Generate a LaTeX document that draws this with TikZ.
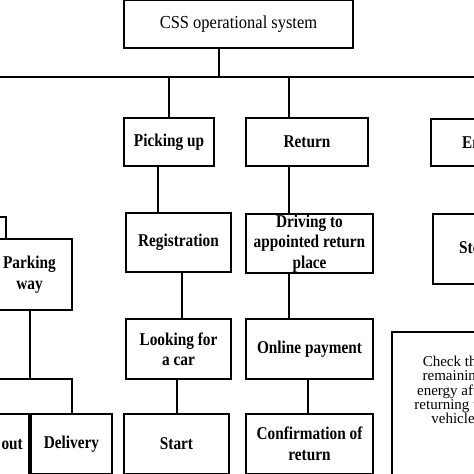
\documentclass[tikz,border=0pt]{standalone}
\usepackage{fontspec}
\setmainfont{Liberation Serif}
\newfontfamily\bxfont[FakeStretch=0.85]{Liberation Serif}
\newfontfamily\cssfont[FakeStretch=0.9]{Liberation Serif}
\begin{document}
\begin{tikzpicture}[x=1pt,y=-1pt,
  box/.style={draw, line width=1.4pt, inner sep=0pt, align=center,
    font=\bxfont\fontsize{18}{20.5}\selectfont\bfseries},
  lbl/.style={inner sep=0pt, font=\bxfont\fontsize{18}{20.5}\selectfont\bfseries},
  conn/.style={line width=1.4pt}]
\useasboundingbox (0,0) rectangle (474,474);
\clip (0,0) rectangle (474,474);
% boxes
\node[box, minimum width=229pt, minimum height=48pt,
  font=\cssfont\fontsize{18.3}{20}\selectfont] (css) at (238.5,24) {CSS operational system};
\node[box, minimum width=90pt, minimum height=48pt] (pick) at (169,142) {Picking up};
\node[box, minimum width=122pt, minimum height=48pt] (ret) at (307,142) {Return};
\node[box, minimum width=122pt, minimum height=47pt] (endb) at (492,142.5) {};
\node[lbl, anchor=base west] (endt) at (462,148) {End};
\node[box, minimum width=105pt, minimum height=59pt] (reg) at (178.5,242.5) {Registration};
\node[box, minimum width=127pt, minimum height=59pt] (drive) at (309.5,243.5) {Driving to\\appointed return\\place};
\node[box, minimum width=122pt, minimum height=70pt] (stopb) at (494,249) {};
\node[lbl, anchor=base west] (stopt) at (459,253) {Stop};
\node[box, minimum width=85pt, minimum height=71pt] (park) at (29.5,274.5) {Parking\\way};
\node[box, minimum width=105pt, minimum height=60pt] (look) at (178.5,349) {Looking for\\a car};
\node[box, minimum width=127pt, minimum height=60pt] (pay) at (309.5,349) {Online payment};
\node[box, minimum width=122pt, minimum height=168pt] (chkb) at (453,416) {};
\node[inner sep=0pt, align=center, font=\fontsize{15}{14.2}\selectfont] (chkt) at (453,390)
  {Check the\\remaining\\energy after\\returning the\\vehicle};
\node[box, minimum width=49pt, minimum height=66pt] (outb) at (4.5,447) {};
\node[lbl, anchor=base east] (outt) at (23,449) {out};
\node[box, minimum width=81pt, minimum height=60pt] (deliv) at (71.5,444) {Delivery};
\node[box, minimum width=105pt, minimum height=60pt] (start) at (176.5,444) {Start};
\node[box, minimum width=127pt, minimum height=60pt] (conf) at (309.5,444) {Confirmation of\\return};
% connector coordinates
\coordinate (hub) at (219,77);
\coordinate (busL) at (-5,77);
\coordinate (busR) at (480,77);
\coordinate (rx) at (289,77);
\coordinate (px) at (158,190);
\coordinate (rgx) at (182,300);
\coordinate (lkx) at (177,400);
\coordinate (pyx) at (308,400);
\coordinate (pkL) at (-5,217);
\coordinate (pkx) at (6,217);
\coordinate (pwx) at (30,379);
\coordinate (pwL) at (-5,379);
\coordinate (dvx) at (72,379);
% connectors
\draw[conn] (css.south -| hub) -- (hub);
\draw[conn] (busL) -- (busR);
\draw[conn] (pick.north |- hub) -- (pick.north);
\draw[conn] (rx) -- (rx |- ret.north);
\draw[conn] (px |- pick.south) -- (px |- reg.north);
\draw[conn] (rx |- ret.south) -- (rx |- drive.north);
\draw[conn] (rgx |- reg.south) -- (rgx |- look.north);
\draw[conn] (rx |- drive.south) -- (rx |- pay.north);
\draw[conn] (lkx |- look.south) -- (lkx |- start.north);
\draw[conn] (pyx |- pay.south) -- (pyx |- conf.north);
\draw[conn] (pkL) -- (pkx) -- (pkx |- park.north);
\draw[conn] (pwx |- park.south) -- (pwx);
\draw[conn] (pwL) -- (dvx) -- (dvx |- deliv.north);
\end{tikzpicture}
\end{document}
